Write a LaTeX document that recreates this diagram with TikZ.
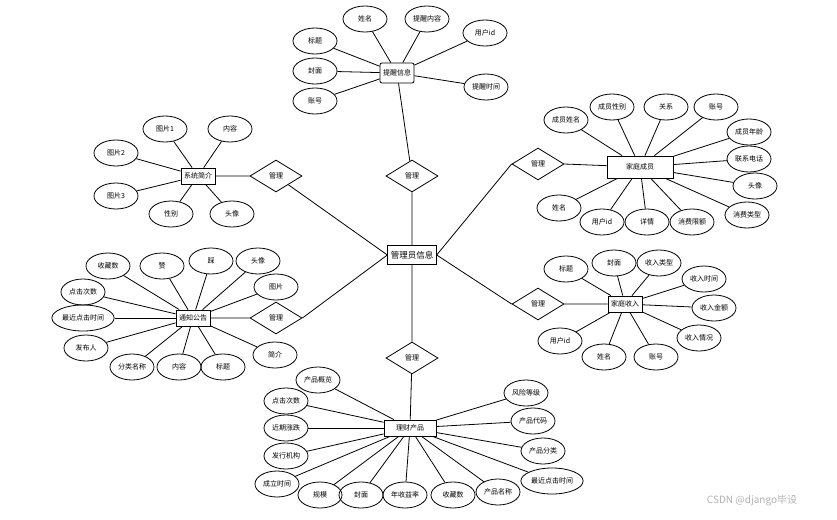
\documentclass[tikz,border=0pt]{standalone}
\usepackage{fontspec}
\setmainfont{Noto Sans CJK SC}
\usetikzlibrary{shapes.geometric}
\begin{document}
\begin{tikzpicture}[x=1pt,y=-1pt,
  attr/.style={ellipse,draw,thick,minimum width=44pt,minimum height=26pt,inner sep=1pt,font=\fontsize{7}{8}\selectfont},
  ent/.style={rectangle,draw,thick,minimum height=16pt,inner sep=3pt,font=\fontsize{7}{8}\selectfont},
  rel/.style={diamond,draw,thick,minimum width=52pt,minimum height=32pt,inner sep=0pt,aspect=1.6,font=\fontsize{7}{8}\selectfont},
  con/.style={draw,thick}]
\useasboundingbox (0,0) rectangle (837,519);
% central entity
\node[ent,font=\fontsize{8.5}{9}\selectfont,minimum height=19pt] (admin) at (412,255) {管理员信息};
% entities
\node[ent,rounded corners=2pt,minimum height=20pt] (tx) at (397,73) {提醒信息};
\node[ent] (xt) at (198,176) {系统简介};
\node[ent,minimum width=66pt,minimum height=22pt] (jc) at (640,167) {家庭成员};
\node[ent] (sr) at (625,304) {家庭收入};
\node[ent] (tz) at (193,318) {通知公告};
\node[ent,minimum width=52pt] (lc) at (410,428) {理财产品};
% relations
\node[rel] (r1) at (412,176) {管理};
\node[rel] (r2) at (276,176) {管理};
\node[rel] (r3) at (538,164) {管理};
\node[rel] (r4) at (538,304) {管理};
\node[rel] (r5) at (276,318) {管理};
\node[rel] (r6) at (412,358) {管理};
\draw[con] (tx)--(r1)--(admin);
\draw[con] (xt)--(r2)--(admin.west);
\draw[con] (jc)--(r3.east) (r3.west)--(admin.east);
\draw[con] (sr)--(r4.east) (r4.west)--(admin.east);
\draw[con] (tz)--(r5.west) (r5.east)--(admin.west);
\draw[con] (lc)--(r6)--(admin);
% attributes
\foreach \n/\x/\y/\t in {a1/365/19/姓名,a2/427/19/提醒内容,a3/485/33/用户id,a4/486/87/提醒时间,a5/315/41/标题,a6/315/71/封面,a7/315/101/账号}
  {\node[attr] (\n) at (\x,\y) {\t}; \draw[con] (tx)--(\n);}
\foreach \n/\x/\y/\t in {b1/165/129/图片1,b2/230/129/内容,b3/116/153/图片2,b4/116/196/图片3,b5/171/214/性别,b6/232/214/头像}
  {\node[attr] (\n) at (\x,\y) {\t}; \draw[con] (xt)--(\n);}
\foreach \n/\x/\y/\t in {c1/566/120/成员姓名,c2/612/107/成员性别,c3/666/107/关系,c4/716/107/账号,c5/749/132/成员年龄,c6/749/159/联系电话,c7/755/186/头像,c8/747/215/消费类型,c9/559/208/姓名,c10/602/222/用户id,c11/647/222/详情,c12/692/222/消费限额}
  {\node[attr] (\n) at (\x,\y) {\t}; \draw[con] (jc)--(\n);}
\foreach \n/\x/\y/\t in {d1/566/269/标题,d2/614/263/封面,d3/659/263/收入类型,d4/704/279/收入时间,d5/714/308/收入金额,d6/699/338/收入情况,d7/560/341/用户id,d8/604/357/姓名,d9/656/357/账号}
  {\node[attr] (\n) at (\x,\y) {\t}; \draw[con] (sr)--(\n);}
\foreach \n/\x/\y/\t in {e1/108/266/收藏数,e2/162/266/赞,e3/211/261/踩,e4/258/261/头像,e5/276/287/图片,e6/83/292/点击次数,e7/83/318/最近点击时间,e8/86/348/发布人,e9/132/367/分类名称,e10/179/367/内容,e11/223/367/标题,e12/275/355/简介}
  {\node[attr] (\n) at (\x,\y) {\t}; \draw[con] (tz)--(\n);}
\foreach \n/\x/\y/\t in {f1/318/380/产品概览,f2/286/401/点击次数,f3/286/428/近期涨跌,f4/286/456/发行机构,f5/277/484/成立时间,f6/320/495/规模,f7/361/495/封面,f8/405/495/年收益率,f9/453/495/收藏数,f10/498/492/产品名称,f11/552/481/最近点击时间,f12/543/451/产品分类,f13/533/421/产品代码,f14/526/393/风险等级}
  {\node[attr] (\n) at (\x,\y) {\t}; \draw[con] (lc)--(\n);}
\node[text=gray!60,font=\fontsize{10}{11}\selectfont] (wm) at (752,501) {CSDN @django毕设};
\end{tikzpicture}
\end{document}
